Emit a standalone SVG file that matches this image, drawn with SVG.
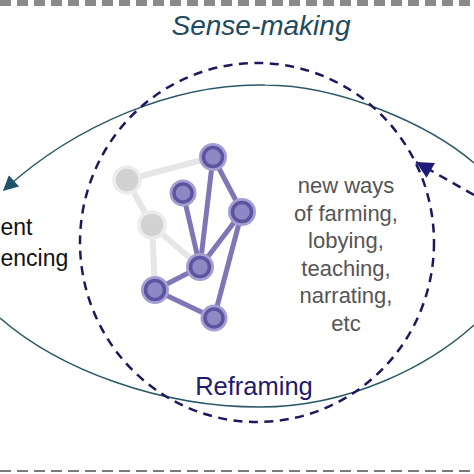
<svg xmlns="http://www.w3.org/2000/svg" width="474" height="474" viewBox="0 0 474 474">
<defs>
<style>
.sep-top{stroke:#8a8a8a;stroke-width:6;stroke-dasharray:11 6;fill:none}
.sep-bot{stroke:#7a7a7a;stroke-width:2;stroke-dasharray:11 6;fill:none}
.loop{fill:none;stroke:#2a5866;stroke-width:1.4}
.dash{fill:none;stroke:#1c1a5c;stroke-width:2.5;stroke-dasharray:9 6.5}
.e-p{stroke:#7e76b6;stroke-width:5;stroke-linecap:round}
.e-g{stroke:#e6e6e6;stroke-width:6;stroke-linecap:round}
.n-out{fill:#a49ed3}
.n-in{fill:#8f88c5;stroke:#5d549f;stroke-width:3.5}
.g-n{fill:#d2d2d2;stroke:#ececec;stroke-width:3.5}
.t{font-family:"Liberation Sans",Arial,sans-serif}
</style>
<marker id="ah-teal" viewBox="0 0 10 10" refX="9" refY="5" markerWidth="17" markerHeight="15" orient="auto" markerUnits="userSpaceOnUse">
<path d="M0,0 L10,5 L0,10 z" fill="#1d5468"/>
</marker>
<marker id="ah-navy" viewBox="0 0 10 10" refX="10" refY="5" markerWidth="22" markerHeight="17" orient="auto" markerUnits="userSpaceOnUse">
<path d="M0,0 L10,5 L0,10 z" fill="#1e1b7a"/>
</marker>
</defs>
<rect width="474" height="474" fill="#ffffff"/>
<line class="sep-top" x1="0" y1="3" x2="474" y2="3"/>
<line class="sep-bot" x1="0" y1="471" x2="474" y2="471"/>

<g id="connectors">
<path class="loop" d="M474,163 C430,125 340,85 265,85 C175,83 75,125 4,190" marker-end="url(#ah-teal)"/>
<path class="loop" d="M0,318 C60,370 160,407 260,407 C350,407 430,365 474,325"/>
<ellipse class="dash" cx="257" cy="242.5" rx="177" ry="179.5"/>
<line class="dash" x1="474" y1="195" x2="416" y2="162" stroke-dasharray="16 8" marker-end="url(#ah-navy)"/>
<g id="network-edges">
<line class="e-g" x1="127" y1="180" x2="213" y2="157"/>
<line class="e-g" x1="127" y1="180" x2="152" y2="225"/>
<line class="e-g" x1="152" y1="225" x2="155" y2="290"/>
<line class="e-g" x1="152" y1="225" x2="200" y2="267"/>
<line class="e-p" x1="213" y1="157" x2="200" y2="267"/>
<line class="e-p" x1="213" y1="157" x2="242" y2="212"/>
<line class="e-p" x1="183" y1="193" x2="200" y2="267"/>
<line class="e-p" x1="242" y1="212" x2="200" y2="267"/>
<line class="e-p" x1="242" y1="212" x2="214" y2="318"/>
<line class="e-p" x1="200" y1="267" x2="155" y2="290"/>
<line class="e-p" x1="155" y1="290" x2="214" y2="318"/>
</g>
</g>

<g id="node-g1"><circle class="g-n" cx="127" cy="180" r="13"/></g>
<g id="node-g2"><circle class="g-n" cx="152" cy="225" r="13"/></g>
<g id="node-n1"><circle class="n-out" cx="213" cy="157" r="14"/><circle class="n-in" cx="213" cy="157" r="9.5"/></g>
<g id="node-n2"><circle class="n-out" cx="183" cy="193" r="13.5"/><circle class="n-in" cx="183" cy="193" r="9"/></g>
<g id="node-n3"><circle class="n-out" cx="242" cy="212" r="14"/><circle class="n-in" cx="242" cy="212" r="9.5"/></g>
<g id="node-n4"><circle class="n-out" cx="200" cy="267" r="14"/><circle class="n-in" cx="200" cy="267" r="9.5"/></g>
<g id="node-n5"><circle class="n-out" cx="155" cy="290" r="14"/><circle class="n-in" cx="155" cy="290" r="9.5"/></g>
<g id="node-n6"><circle class="n-out" cx="214" cy="318" r="13.5"/><circle class="n-in" cx="214" cy="318" r="9"/></g>

<g id="label-sense"><text class="t" x="261" y="35" font-size="28" font-style="italic" fill="#1e4b5e" text-anchor="middle">Sense-making</text></g>
<g id="label-left">
<text class="t" x="0.5" y="235" font-size="23" fill="#111111">ent</text>
<text class="t" x="0.5" y="266" font-size="23" fill="#111111">encing</text>
</g>
<g id="label-new" class="t" font-size="22" fill="#555555" text-anchor="middle">
<text x="346" y="193">new ways</text>
<text x="346" y="220.5">of farming,</text>
<text x="346" y="248">lobying,</text>
<text x="346" y="275.5">teaching,</text>
<text x="346" y="303">narrating,</text>
<text x="346" y="330.5">etc</text>
</g>
<g id="label-reframing"><text class="t" x="254" y="395" font-size="25.5" fill="#1e1b6e" text-anchor="middle">Reframing</text></g>
</svg>
